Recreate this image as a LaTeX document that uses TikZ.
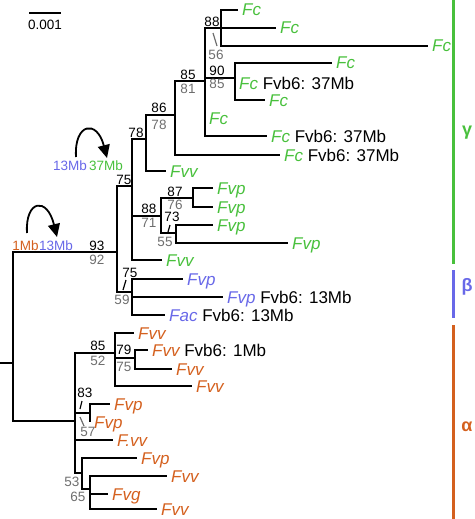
\documentclass[tikz,border=0pt]{standalone}
\usepackage{fontspec}
\setmainfont{Liberation Sans}
\usetikzlibrary{arrows.meta}
\definecolor{cgreen}{RGB}{72,192,60}
\definecolor{cblue}{RGB}{104,104,232}
\definecolor{corange}{RGB}{212,96,30}
\definecolor{cgray}{RGB}{110,110,110}

\begin{document}
\begin{tikzpicture}[x=1pt,y=-1pt,line join=miter,
  branch/.style={line width=1.7pt},
  leaf/.style={anchor=base west,inner sep=0pt,xshift=4pt,yshift=-6pt,font=\fontsize{17}{19}\selectfont\itshape},
  boot/.style={inner sep=0pt,font=\fontsize{13.5}{15}\selectfont},
  gboot/.style={boot,text=cgray},
  tick/.style={line width=1.2pt},
  jump/.style={line width=1.8pt,-{Triangle[length=13pt,width=12pt]}},
  bar/.style={line width=3pt},
  clade/.style={inner sep=0pt,font=\fontsize{18}{20}\selectfont\bfseries}]
\useasboundingbox (0,0) rectangle (474,519);

% scale bar
\coordinate (sb1) at (29,13);
\coordinate (sb2) at (61,13);
\draw[line width=2.4pt] (sb1) -- (sb2);
\node[boot] (sbl) at (45,25) {0.001};

% internal nodes
\coordinate (rs) at (0,363);
\coordinate (r) at (13,363);
\coordinate (U) at (117,252);
\coordinate (n75) at (132,186);
\coordinate (n78) at (146,139);
\coordinate (n86) at (175,115);
\coordinate (n85) at (205,81);
\coordinate (n88a) at (221,28);
\coordinate (n90) at (235,78);
\coordinate (n88b) at (161,216);
\coordinate (n87) at (193,198);
\coordinate (n73) at (176,233);
\coordinate (nB) at (132,292);
\coordinate (A) at (75,421);
\coordinate (n85c) at (115,353);
\coordinate (n79) at (135,358);
\coordinate (n83) at (90,413);
\coordinate (n53) at (82,473);
\coordinate (n65) at (90,489);

% leaf tips
\coordinate (fc1) at (238,10);
\coordinate (fc2) at (276,28);
\coordinate (fc3) at (428,46);
\coordinate (fc4) at (332,63);
\coordinate (z90) at (235,83);
\coordinate (fc5) at (265,100);
\coordinate (z85) at (205,118);
\coordinate (fc6) at (267,136);
\coordinate (fc7) at (280,155);
\coordinate (fvv1) at (166,171);
\coordinate (fvp1) at (213,188);
\coordinate (fvp2) at (213,207);
\coordinate (fvp3) at (213,225);
\coordinate (fvp4) at (288,243);
\coordinate (fvv2) at (162,260);
\coordinate (bfvp1) at (183,279);
\coordinate (bfvp2) at (223,297);
\coordinate (bfac) at (165,315);
\coordinate (ofvv1) at (134,333);
\coordinate (ofvv2) at (148,350);
\coordinate (ofvv3) at (172,369);
\coordinate (ofvv4) at (192,386);
\coordinate (ofvp1) at (110,404);
\coordinate (z83) at (90,422);
\coordinate (ofvv5) at (113,440);
\coordinate (ofvp2) at (137,458);
\coordinate (ofvv6) at (167,476);
\coordinate (ofvg) at (108,494);
\coordinate (ofvv7) at (157,509);

% branches
\draw[branch] (rs) -- (r);
\draw[branch] (r) |- (U);
\draw[branch] (r) |- (A);
\draw[branch] (U) |- (n75);
\draw[branch] (U) |- (nB);
\draw[branch] (n75) |- (n78);
\draw[branch] (n75) |- (n88b);
\draw[branch] (n75) |- (fvv2);
\draw[branch] (n78) |- (n86);
\draw[branch] (n78) |- (fvv1);
\draw[branch] (n86) |- (n85);
\draw[branch] (n86) |- (fc7);
\draw[branch] (n85) |- (n88a);
\draw[branch] (n85) |- (n90);
\draw[branch] (n85) |- (fc6);
\draw[branch] (n88a) |- (fc1);
\draw[branch] (n88a) |- (fc2);
\draw[branch] (n88a) |- (fc3);
\draw[branch] (n90) |- (fc4);
\draw[branch] (n90) |- (fc5);
\draw[branch] (n88b) |- (n87);
\draw[branch] (n88b) |- (n73);
\draw[branch] (n87) |- (fvp1);
\draw[branch] (n87) |- (fvp2);
\draw[branch] (n73) |- (fvp3);
\draw[branch] (n73) |- (fvp4);
\draw[branch] (nB) |- (bfvp1);
\draw[branch] (nB) |- (bfvp2);
\draw[branch] (nB) |- (bfac);
\draw[branch] (A) |- (n85c);
\draw[branch] (A) |- (n83);
\draw[branch] (A) |- (ofvv5);
\draw[branch] (A) |- (n53);
\draw[branch] (n85c) |- (ofvv1);
\draw[branch] (n85c) |- (n79);
\draw[branch] (n85c) |- (ofvv4);
\draw[branch] (n79) |- (ofvv2);
\draw[branch] (n79) |- (ofvv3);
\draw[branch] (n83) |- (ofvp1);
\draw[branch] (n83) |- (z83);
\draw[branch] (n53) |- (ofvp2);
\draw[branch] (n53) |- (n65);
\draw[branch] (n65) |- (ofvv6);
\draw[branch] (n65) |- (ofvg);
\draw[branch] (n65) |- (ofvv7);

% leaf labels
\node[leaf,text=cgreen] (lfc1) at (fc1) {Fc};
\node[leaf,text=cgreen] (lfc2) at (fc2) {Fc};
\node[leaf,text=cgreen] (lfc3) at (fc3) {Fc};
\node[leaf,text=cgreen] (lfc4) at (fc4) {Fc};
\node[leaf] (lz90) at (z90) {\textcolor{cgreen}{Fc} \upshape Fvb6: 37Mb};
\node[leaf,text=cgreen] (lfc5) at (fc5) {Fc};
\node[leaf,text=cgreen] (lz85) at (z85) {Fc};
\node[leaf] (lfc6) at (fc6) {\textcolor{cgreen}{Fc} \upshape Fvb6: 37Mb};
\node[leaf] (lfc7) at (fc7) {\textcolor{cgreen}{Fc} \upshape Fvb6: 37Mb};
\node[leaf,text=cgreen] (lfvv1) at (fvv1) {Fvv};
\node[leaf,text=cgreen] (lfvp1) at (fvp1) {Fvp};
\node[leaf,text=cgreen] (lfvp2) at (fvp2) {Fvp};
\node[leaf,text=cgreen] (lfvp3) at (fvp3) {Fvp};
\node[leaf,text=cgreen] (lfvp4) at (fvp4) {Fvp};
\node[leaf,text=cgreen] (lfvv2) at (fvv2) {Fvv};
\node[leaf,text=cblue] (lbfvp1) at (bfvp1) {Fvp};
\node[leaf] (lbfvp2) at (bfvp2) {\textcolor{cblue}{Fvp} \upshape Fvb6: 13Mb};
\node[leaf] (lbfac) at (bfac) {\textcolor{cblue}{Fac} \upshape Fvb6: 13Mb};
\node[leaf,text=corange] (lofvv1) at (ofvv1) {Fvv};
\node[leaf] (lofvv2) at (ofvv2) {\textcolor{corange}{Fvv} \upshape Fvb6: 1Mb};
\node[leaf,text=corange] (lofvv3) at (ofvv3) {Fvv};
\node[leaf,text=corange] (lofvv4) at (ofvv4) {Fvv};
\node[leaf,text=corange] (lofvp1) at (ofvp1) {Fvp};
\node[leaf,text=corange] (lz83) at (z83) {Fvp};
\node[leaf,text=corange] (lofvv5) at (ofvv5) {F.vv};
\node[leaf,text=corange] (lofvp2) at (ofvp2) {Fvp};
\node[leaf,text=corange] (lofvv6) at (ofvv6) {Fvv};
\node[leaf,text=corange] (lofvg) at (ofvg) {Fvg};
\node[leaf,text=corange] (lofvv7) at (ofvv7) {Fvv};

% support values
\node[boot] (b93) at (97,246) {93};
\node[gboot] (g92) at (97,260) {92};
\node[boot] (b75a) at (124,180) {75};
\node[boot] (b78) at (136,133) {78};
\node[boot] (b86) at (159,108) {86};
\node[gboot] (g78) at (159,125) {78};
\node[boot] (b85a) at (188,75) {85};
\node[gboot] (g81) at (188,89) {81};
\node[boot] (b88a) at (212,22) {88};
\node[gboot] (g56) at (216,55) {56};
\node[boot] (b90) at (217,71) {90};
\node[gboot] (g85) at (217,84) {85};
\node[boot] (b88b) at (149,209) {88};
\node[gboot] (g71) at (149,223) {71};
\node[boot] (b87) at (175,192) {87};
\node[gboot] (g76) at (175,205) {76};
\node[boot] (b73) at (172,217) {73};
\node[gboot] (g55) at (165,242) {55};
\node[boot] (b75b) at (130,273) {75};
\node[gboot] (g59) at (122,300) {59};
\node[boot] (b85b) at (98,346) {85};
\node[gboot] (g52) at (98,361) {52};
\node[boot] (b79) at (124,350) {79};
\node[gboot] (g75) at (124,367) {75};
\node[boot] (b83) at (85,393) {83};
\node[gboot] (g57) at (88,432) {57};
\node[gboot] (g53) at (72,482) {53};
\node[gboot] (g65) at (78,497) {65};

% leader ticks
\draw[tick,cgray] (213,33) -- (217,46);
\draw[tick] (168,232) -- (170,225);
\draw[tick] (123,290) -- (126,280);
\draw[tick] (80,409) -- (82,401);
\draw[tick,cgray] (80,417) -- (84,426);

% rearrangements
\coordinate (j1s) at (27,233);
\coordinate (j1e) at (57,237);
\draw[jump] (j1s) .. controls (25,200) and (47,196) .. (j1e);
\node[boot,text=corange] (m1) at (25.5,246) {1Mb};
\node[boot,text=cblue] (m13a) at (56,246) {13Mb};
\coordinate (j2s) at (76,157);
\coordinate (j2e) at (107,158);
\draw[jump] (j2s) .. controls (74,123) and (97,119) .. (j2e);
\node[boot,text=cblue] (m13b) at (70,166) {13Mb};
\node[boot,text=cgreen] (m37) at (106,166) {37Mb};

% clade bars
\coordinate (g1) at (453,0);
\coordinate (g2) at (453,264);
\coordinate (bb1) at (453,270);
\coordinate (bb2) at (453,318);
\coordinate (o1) at (453,325);
\coordinate (o2) at (453,519);
\draw[bar,cgreen] (g1) -- (g2);
\draw[bar,cblue] (bb1) -- (bb2);
\draw[bar,corange] (o1) -- (o2);
\node[clade,text=cgreen] (kg) at (467,133) {γ};
\node[clade,text=cblue] (kb) at (467,287) {β};
\node[clade,text=corange] (ka) at (467,427) {α};
\end{tikzpicture}
\end{document}
